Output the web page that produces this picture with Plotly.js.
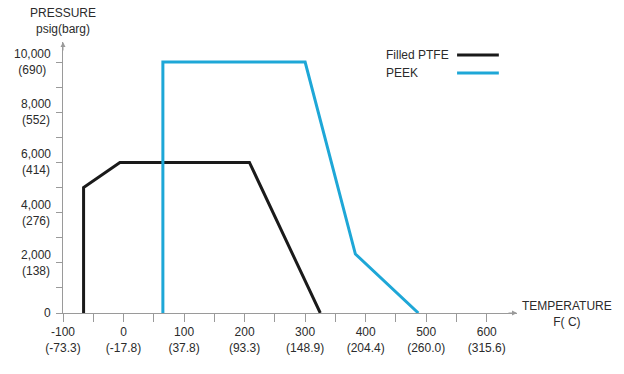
<!DOCTYPE html>
<html>
<head>
<meta charset="utf-8">
<script src="https://cdn.plot.ly/plotly-3.0.1.min.js"></script>
<style>html,body{margin:0;padding:0;background:#fff;}#chart{width:624px;height:374px;}</style>
</head>
<body>
<div id="chart"></div>
<script>
// Series data (temperature °F, pressure psig)
const seriesNames = ["Filled PTFE", "PEEK"];
const ptfeTemp = [-66, -66, -6, 208, 325];
const ptfePressure = [0, 5000, 6000, 6000, 0];
const peekTemp = [65, 65, 300, 383, 487];
const peekPressure = [0, 10000, 10000, 2350, 0];
const seriesColors = ["#1a1a1a", "#1ea7d7"];

// Tick labels
const xTickVals = [-100, -50, 0, 50, 100, 150, 200, 250, 300, 350, 400, 450, 500, 550, 600];
const xTickText = ["-100<br>(-73.3)", "", "0<br>(-17.8)", "", "100<br>(37.8)", "", "200<br>(93.3)", "",
                   "300<br>(148.9)", "", "400<br>(204.4)", "", "500<br>(260.0)", "", "600<br>(315.6)"];
const yTickVals = [0, 1000, 2000, 3000, 4000, 5000, 6000, 7000, 8000, 9000, 10000];
const yTickText = ["0", "", "2,000<br>(138)", "", "4,000<br>(276)", "", "6,000<br>(414)", "",
                   "8,000<br>(552)", "", "10,000<br>(690)"];

const txtColor = "#2b2b2b";
const axisColor = "#9a9a9a";
const font = {family: "Liberation Sans, Arial, sans-serif", size: 12, color: txtColor};

const traces = [
  {x: ptfeTemp, y: ptfePressure, name: seriesNames[0], mode: "lines",
   line: {color: seriesColors[0], width: 3}, hoverinfo: "skip"},
  {x: peekTemp, y: peekPressure, name: seriesNames[1], mode: "lines",
   line: {color: seriesColors[1], width: 3}, hoverinfo: "skip"}
];

const legendY = [0.952, 0.886];
const annotations = [
  {xref: "paper", yref: "paper", x: 0, y: 1.0775, xanchor: "center", yanchor: "middle",
   text: "PRESSURE<br>psig(barg)", showarrow: false, font: font},
  {xref: "paper", yref: "paper", x: 1.110, y: -0.005, xanchor: "center", yanchor: "middle",
   text: "TEMPERATURE<br>F( C)", showarrow: false, font: font},
  // axis arrowheads
  {xref: "x", yref: "y", x: 650, y: 0, ax: -10, ay: 0, axref: "pixel", ayref: "pixel",
   text: "", showarrow: true, arrowhead: 2, arrowsize: 1, arrowwidth: 1, arrowcolor: axisColor},
  {xref: "x", yref: "y", x: -100, y: 10800, ax: 0, ay: 10, axref: "pixel", ayref: "pixel",
   text: "", showarrow: true, arrowhead: 2, arrowsize: 1, arrowwidth: 1, arrowcolor: axisColor}
];
// y tick labels: block right-aligned, lines centred
yTickVals.forEach((v, i) => {
  if (yTickText[i]) {
    annotations.push({xref: "paper", yref: "y", x: -0.021, y: v, xanchor: "right",
      yanchor: "middle", align: "center", text: yTickText[i], showarrow: false, font: font});
  }
});
const shapes = [];
seriesNames.forEach((n, i) => {
  annotations.push({xref: "paper", yref: "paper", x: 0.707, y: legendY[i], xanchor: "left",
    yanchor: "middle", text: n, showarrow: false, font: font});
  shapes.push({type: "line", xref: "paper", yref: "paper", x0: 0.868, x1: 0.960,
    y0: legendY[i], y1: legendY[i], line: {color: seriesColors[i], width: 3}});
});

const layout = {
  width: 624, height: 374,
  margin: {l: 63, r: 107, t: 42, b: 61},
  paper_bgcolor: "#ffffff", plot_bgcolor: "#ffffff",
  showlegend: false,
  font: font,
  xaxis: {
    range: [-100, 650], showgrid: false, zeroline: false, showline: true,
    linecolor: axisColor, linewidth: 1, ticks: "outside", ticklen: 8, tickwidth: 1,
    tickcolor: axisColor, tickmode: "array", tickvals: xTickVals, ticktext: xTickText,
    tickfont: font, fixedrange: true
  },
  yaxis: {
    range: [0, 10800], showgrid: false, zeroline: false, showline: true,
    linecolor: axisColor, linewidth: 1, ticks: "outside", ticklen: 6, tickwidth: 1,
    tickcolor: axisColor, tickmode: "array", tickvals: yTickVals, showticklabels: false,
    fixedrange: true
  },
  annotations: annotations,
  shapes: shapes
};

Plotly.newPlot("chart", traces, layout, {staticPlot: true, displayModeBar: false});
</script>
</body>
</html>
